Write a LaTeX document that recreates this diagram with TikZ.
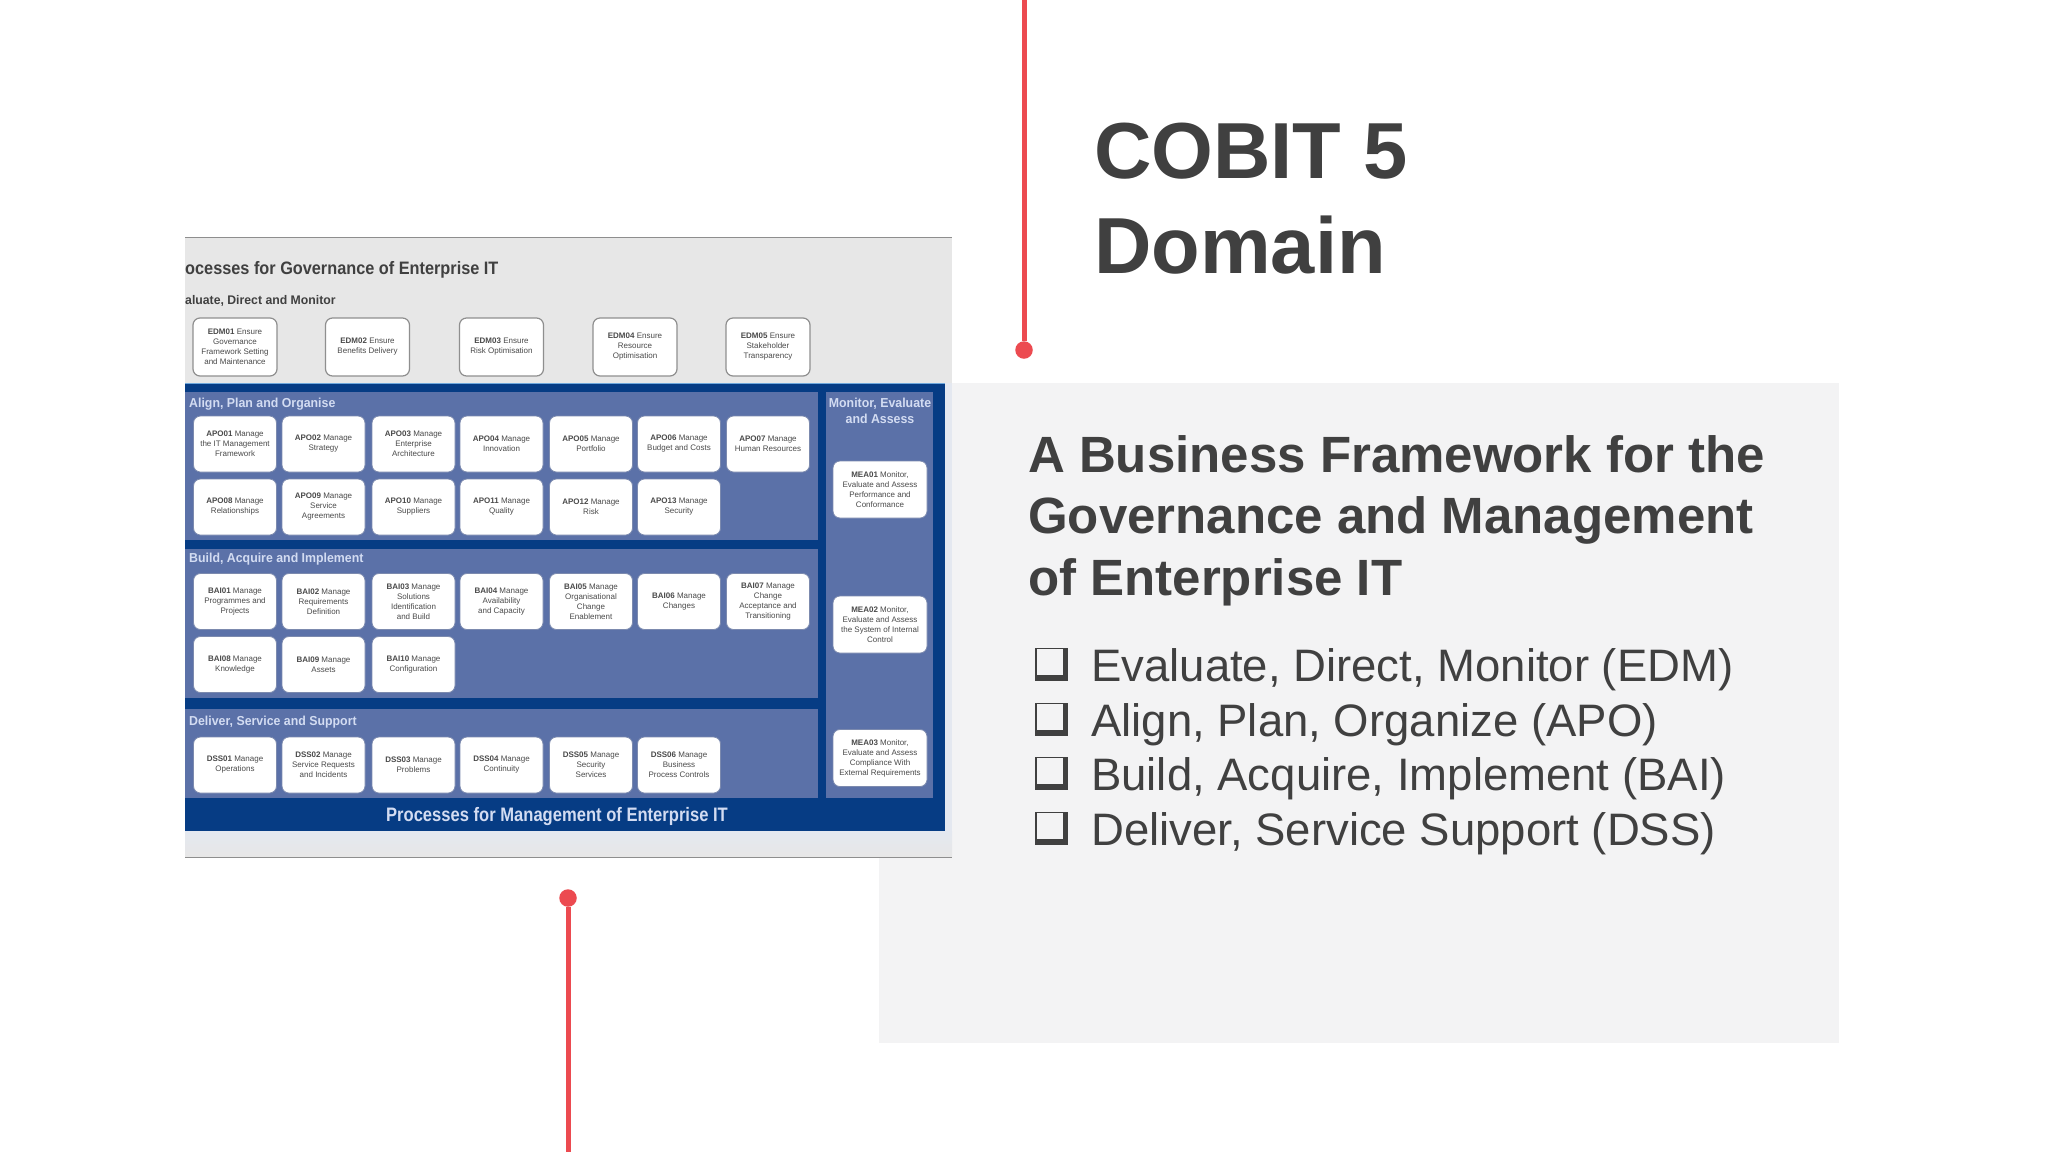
\documentclass[tikz,border=0pt]{standalone}
\usepackage{fontspec}
\setmainfont{Liberation Sans}
\newfontfamily\narrowA[FakeStretch=0.85]{Liberation Sans}
\newfontfamily\narrowB[FakeStretch=0.905]{Liberation Sans}
\newfontfamily\narrowC[FakeStretch=0.95]{Liberation Sans}
\newfontfamily\narrowD[FakeStretch=0.98]{Liberation Sans}
\usetikzlibrary{positioning}
\definecolor{inkgray}{HTML}{404040}
\definecolor{panelgray}{HTML}{F3F3F4}
\definecolor{imggray}{HTML}{E7E7E7}
\definecolor{imgline}{HTML}{8E8E8E}
\definecolor{navy}{HTML}{063C84}
\definecolor{midblue}{HTML}{5B71A8}
\definecolor{topglow}{HTML}{6FA8DC}
\definecolor{lowglow}{HTML}{E4E8F0}
\definecolor{lightlabel}{HTML}{D3DCF2}
\definecolor{redline}{HTML}{EC4A50}
\definecolor{boxedge}{HTML}{8F8F8F}
\definecolor{boxshade}{HTML}{7C8AAE}
\definecolor{boxink}{HTML}{4A4A4A}
\newcommand{\cb}[1]{\textbf{#1}}
\newcommand{\fsz}[2]{\fontsize{#1pt}{#2pt}\selectfont}
\tikzset{
  baseboxstyle/.style={rounded corners=7pt,fill=white,align=center,inner sep=0pt,text=boxink,font=\fsz{8}{10}},
  edmbox/.style={baseboxstyle,draw=boxedge,line width=1.2pt,minimum width=84pt,minimum height=58pt},
  procbox/.style={baseboxstyle,draw=boxshade,line width=.8pt,minimum width=83pt,minimum height=56pt},
  meabox/.style={baseboxstyle,draw=boxshade,line width=.8pt,minimum width=94pt,minimum height=57pt},
  seclabel/.style={anchor=base west,inner sep=0pt,text=lightlabel,font=\narrowC\fsz{13}{16}\bfseries},
  darklabel/.style={anchor=base west,inner sep=0pt,text=inkgray},
  titletext/.style={anchor=base west,inner sep=0pt,text=inkgray,font=\fsz{79.5}{95}\bfseries,align=left},
  subtext/.style={anchor=base west,inner sep=0pt,text=inkgray,font=\fsz{51}{61.4}\bfseries,align=left},
  itemtext/.style={anchor=base west,inner sep=0pt,text=inkgray,font=\fsz{45.5}{54.6}},
  redstem/.style={draw=redline,line width=5pt},
  reddot/.style={circle,fill=redline,inner sep=0pt,minimum size=17.5pt},
}
\newcommand{\checkglyph}[1]{%
  \fill[inkgray] (1035,#1-33) rectangle (1068,#1);
  \fill[panelgray] (1037,#1-32) rectangle (1063,#1-6);
}
\begin{document}
\begin{tikzpicture}[x=1pt,y=-1pt]
\useasboundingbox (0,0) rectangle (2048,1152);
\fill[white] (0,0) rectangle (2048,1152);
% right panel
\fill[panelgray] (879,383) rectangle (1839,1043);
% red stems
\coordinate (stemAtop) at (1024,0);
\node[reddot] (dotA) at (1024,350) {};
\draw[redstem] (stemAtop) -- (dotA);
\coordinate (stemBbot) at (568,1152);
\node[reddot] (dotB) at (568,898) {};
\draw[redstem] (dotB) -- (stemBbot);
% image
\fill[imggray] (185,237) rectangle (952,857);
\draw[imgline,line width=1.6pt] (185,237.5) -- (952,237.5);
\shade[top color=lowglow,bottom color=imggray] (185,831) rectangle (952,856);
\fill[lowglow] (945,383) rectangle (952,831);
\draw[imgline,line width=1pt] (185,857) -- (952,857);
\fill[navy] (185,383) rectangle (945,831);
\draw[topglow,line width=1pt] (185,383) -- (945,383);
\fill[midblue] (185,392) rectangle (818,540);
\fill[midblue] (185,549) rectangle (818,698);
\fill[midblue] (185,709) rectangle (818,798);
\fill[midblue] (826,392) rectangle (933,798);
% image labels
\node[darklabel,font=\narrowB\fsz{18}{20}\bfseries] (hgov) at (185,274) {ocesses for Governance of Enterprise IT};
\node[darklabel,font=\narrowD\fsz{12.5}{15}\bfseries] (hedm) at (185,304) {aluate, Direct and Monitor};
\node[seclabel] (hapo) at (189,407) {Align, Plan and Organise};
\node[seclabel] (hbai) at (189,562) {Build, Acquire and Implement};
\node[seclabel] (hdss) at (189,725) {Deliver, Service and Support};
\node[inner sep=0pt,text=lightlabel,font=\narrowC\fsz{13}{16}\bfseries,align=center] (hmea) at (880,411) {Monitor, Evaluate\\and Assess};
\node[inner sep=0pt,anchor=base,text=lightlabel,font=\narrowA\fsz{19.5}{22}\bfseries] (hmgmt) at (557,821) {Processes for Management of Enterprise IT};
% EDM
\node[edmbox] (edm1) at (235,347) {\cb{EDM01} Ensure\\Governance\\Framework Setting\\and Maintenance};
\node[edmbox] (edm2) at (367.5,347) {\cb{EDM02} Ensure\\Benefits Delivery};
\node[edmbox] (edm3) at (501.5,347) {\cb{EDM03} Ensure\\Risk Optimisation};
\node[edmbox] (edm4) at (635,347) {\cb{EDM04} Ensure\\Resource\\Optimisation};
\node[edmbox] (edm5) at (768,347) {\cb{EDM05} Ensure\\Stakeholder\\Transparency};
% APO
\node[procbox] (apo1) at (235,444) {\cb{APO01} Manage\\the IT Management\\Framework};
\node[procbox] (apo2) at (323.5,444) {\cb{APO02} Manage\\Strategy};
\node[procbox] (apo3) at (413.5,444) {\cb{APO03} Manage\\Enterprise\\Architecture};
\node[procbox] (apo4) at (501.5,444) {\cb{APO04} Manage\\Innovation};
\node[procbox] (apo5) at (591,444) {\cb{APO05} Manage\\Portfolio};
\node[procbox] (apo6) at (679,444) {\cb{APO06} Manage\\Budget and Costs};
\node[procbox] (apo7) at (768,444) {\cb{APO07} Manage\\Human Resources};
\node[procbox] (apo8) at (235,507) {\cb{APO08} Manage\\Relationships};
\node[procbox] (apo9) at (323.5,507) {\cb{APO09} Manage\\Service\\Agreements};
\node[procbox] (apo10) at (413.5,507) {\cb{APO10} Manage\\Suppliers};
\node[procbox] (apo11) at (501.5,507) {\cb{APO11} Manage\\Quality};
\node[procbox] (apo12) at (591,507) {\cb{APO12} Manage\\Risk};
\node[procbox] (apo13) at (679,507) {\cb{APO13} Manage\\Security};
% BAI
\node[procbox] (bai1) at (235,601.5) {\cb{BAI01} Manage\\Programmes and\\Projects};
\node[procbox] (bai2) at (323.5,601.5) {\cb{BAI02} Manage\\Requirements\\Definition};
\node[procbox] (bai3) at (413.5,601.5) {\cb{BAI03} Manage\\Solutions\\Identification\\and Build};
\node[procbox] (bai4) at (501.5,601.5) {\cb{BAI04} Manage\\Availability\\and Capacity};
\node[procbox] (bai5) at (591,601.5) {\cb{BAI05} Manage\\Organisational\\Change\\Enablement};
\node[procbox] (bai6) at (679,601.5) {\cb{BAI06} Manage\\Changes};
\node[procbox] (bai7) at (768,601.5) {\cb{BAI07} Manage\\Change\\Acceptance and\\Transitioning};
\node[procbox] (bai8) at (235,664.5) {\cb{BAI08} Manage\\Knowledge};
\node[procbox] (bai9) at (323.5,664.5) {\cb{BAI09} Manage\\Assets};
\node[procbox] (bai10) at (413.5,664.5) {\cb{BAI10} Manage\\Configuration};
% DSS
\node[procbox] (dss1) at (235,765) {\cb{DSS01} Manage\\Operations};
\node[procbox] (dss2) at (323.5,765) {\cb{DSS02} Manage\\Service Requests\\and Incidents};
\node[procbox] (dss3) at (413.5,765) {\cb{DSS03} Manage\\Problems};
\node[procbox] (dss4) at (501.5,765) {\cb{DSS04} Manage\\Continuity};
\node[procbox] (dss5) at (591,765) {\cb{DSS05} Manage\\Security\\Services};
\node[procbox] (dss6) at (679,765) {\cb{DSS06} Manage\\Business\\Process Controls};
% MEA
\node[meabox] (mea1) at (880,489.5) {\cb{MEA01} Monitor,\\Evaluate and Assess\\Performance and\\Conformance};
\node[meabox] (mea2) at (880,624.5) {\cb{MEA02} Monitor,\\Evaluate and Assess\\the System of Internal\\Control};
\node[meabox] (mea3) at (880,758) {\cb{MEA03} Monitor,\\Evaluate and Assess\\Compliance With\\External Requirements};
% right side text
\node[titletext] (title) at (1094,273) {COBIT 5\\Domain};
\node[subtext] (sub) at (1028,595) {A Business Framework for the\\Governance and Management\\of Enterprise IT};
\checkglyph{681}
\checkglyph{735.5}
\checkglyph{790}
\checkglyph{844.5}
\node[itemtext] (it1) at (1091,681) {Evaluate, Direct, Monitor (EDM)};
\node[itemtext] (it2) at (1091,736) {Align, Plan, Organize (APO)};
\node[itemtext] (it3) at (1091,790) {Build, Acquire, Implement (BAI)};
\node[itemtext] (it4) at (1091,845) {Deliver, Service Support (DSS)};
\end{tikzpicture}
\end{document}
